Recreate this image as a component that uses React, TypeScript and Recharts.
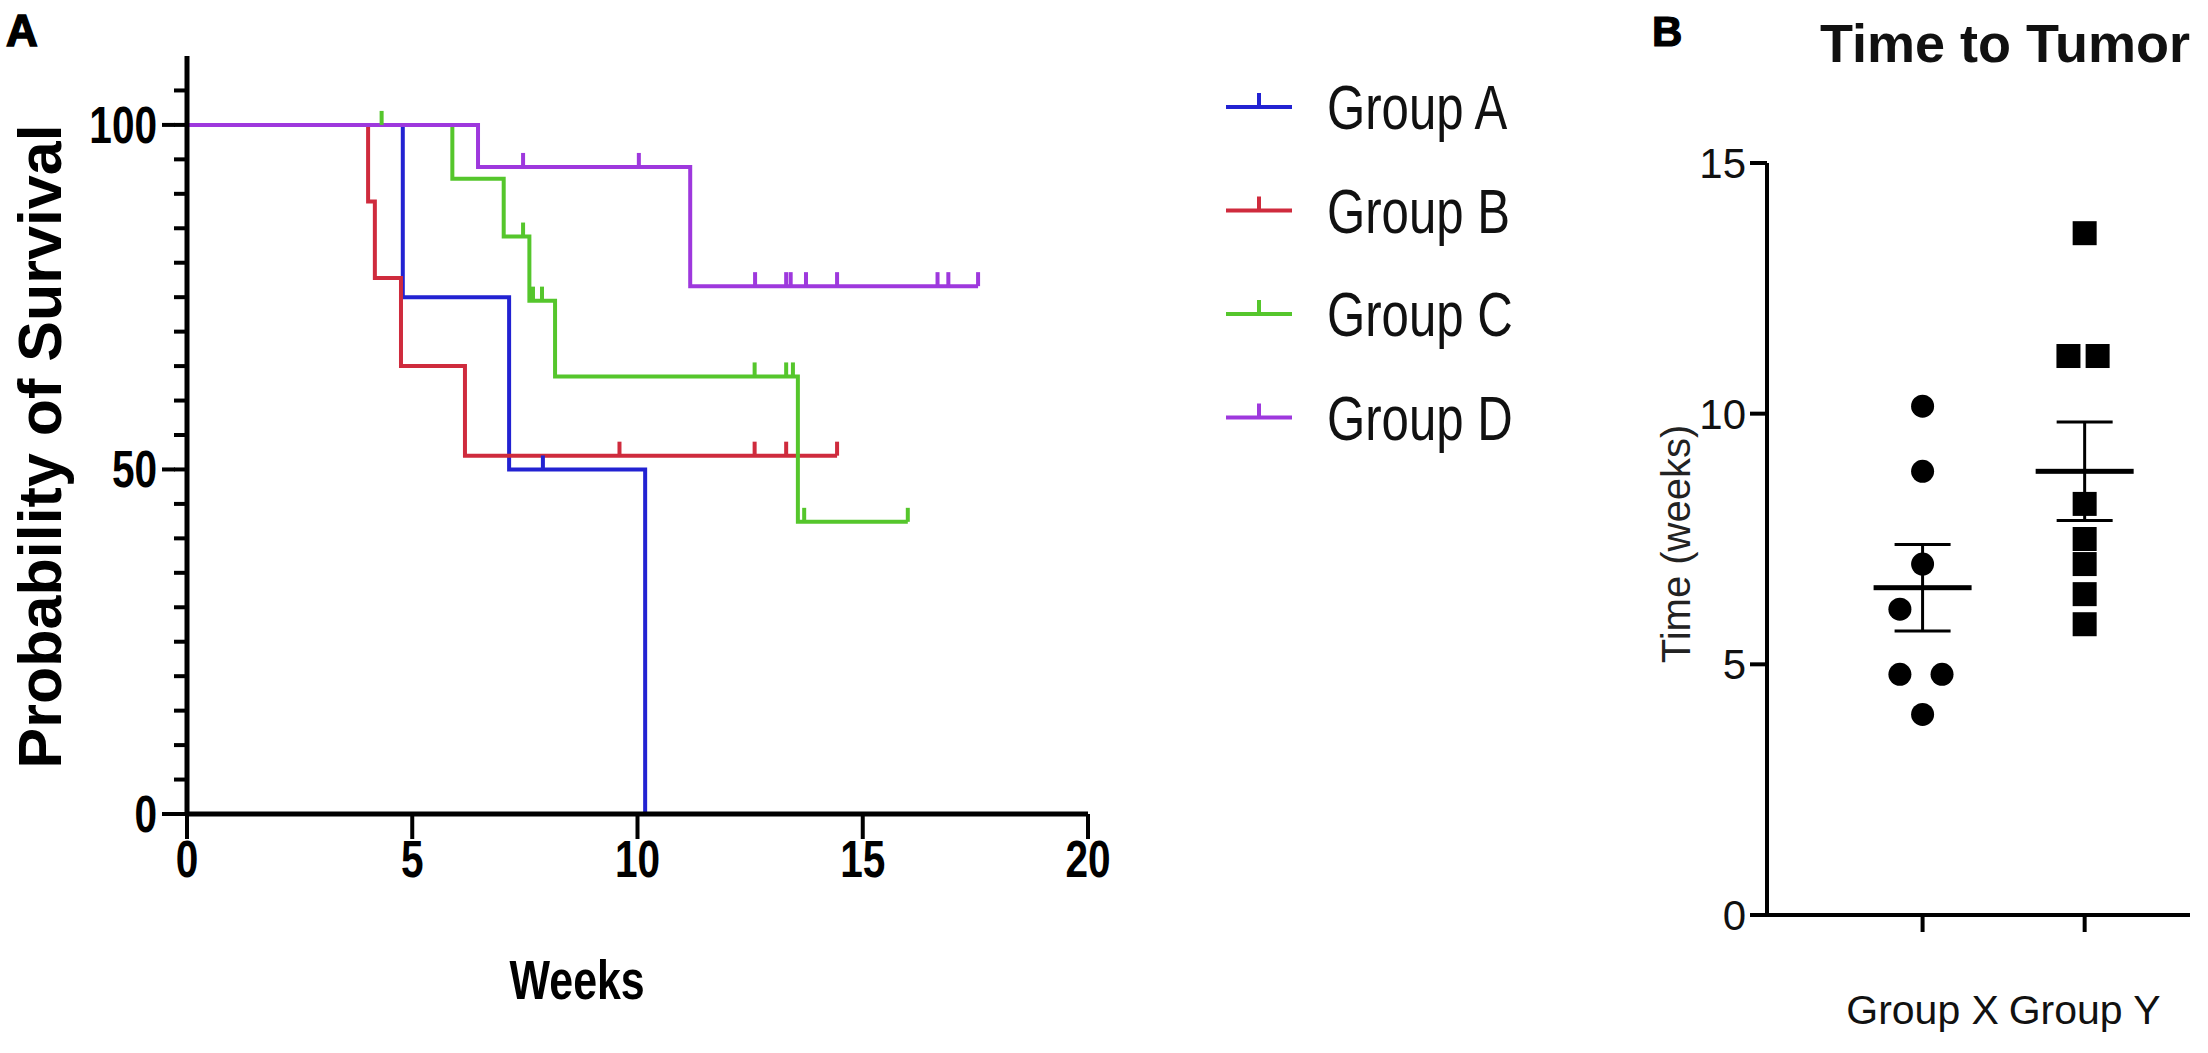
import React from 'react';
import {
  ComposedChart,
  ErrorBar,
  Label,
  Line,
  LineChart,
  Scatter,
  XAxis,
  YAxis,
} from 'recharts';

const FONT = "'Liberation Sans', Arial, Helvetica, sans-serif";
// lettering in panel A is horizontally compressed in the figure
const SQUEEZE = 0.78;

// ---- Panel A: survival curves (weeks, % surviving)
const groupNames = ['Group A', 'Group B', 'Group C', 'Group D'];
const groupColors = ['#2222d2', '#cf2b3d', '#55c62c', '#9e38dd'];

// [week, survival after the drop]
const groupAEvents = [[0, 100], [4.79, 75], [7.15, 50], [10.17, 0]];
const groupACensored = [7.9];
const groupBEvents = [[0, 100], [4.02, 88.9], [4.17, 77.8], [4.75, 65], [6.17, 52]];
const groupBCensored = [9.6, 12.6, 13.3, 14.43];
const groupCEvents = [[0, 100], [5.89, 92.2], [7.03, 83.8], [7.6, 74.5], [8.17, 63.5], [13.56, 42.4]];
const groupCCensored = [4.32, 7.46, 7.68, 7.88, 12.6, 13.3, 13.45, 13.7, 16.0];
const groupDEvents = [[0, 100], [6.46, 93.9], [11.17, 76.6]];
const groupDCensored = [7.46, 10.03, 12.61, 13.3, 13.4, 13.74, 14.43, 16.66, 16.9, 17.56];

const weekTicks = [0, 5, 10, 15, 20];
const survivalTicks = [0, 5, 10, 15, 20, 25, 30, 35, 40, 45, 50, 55, 60, 65, 70, 75, 80, 85, 90, 95, 100, 105];

// ---- Panel B: time to tumor
const tumorGroups = ['Group X', 'Group Y'];
const groupXWeeks = [10.15, 8.85, 7.0, 6.1, 4.8, 4.8, 4.0];
const groupXSpread = [0, 0, 0, -0.14, -0.14, 0.12, 0];
const groupYWeeks = [13.6, 11.15, 11.15, 8.2, 7.5, 7.0, 6.4, 5.8];
const groupYSpread = [0, -0.1, 0.08, 0, 0, 0, 0, 0];
const timeTicks = [0, 5, 10, 15];

type Pt = { t: number; s: number; c: boolean };

const buildCurve = (events: number[][], censored: number[]): Pt[] => {
  const pts: Pt[] = events.map(([t, s]) => ({ t, s, c: false }));
  censored.forEach((t) => {
    const before = events.filter(([et]) => et <= t);
    pts.push({ t, s: before[before.length - 1][1], c: true });
  });
  return pts.sort((a, b) => a.t - b.t);
};

const curves = [
  buildCurve(groupAEvents, groupACensored),
  buildCurve(groupBEvents, groupBCensored),
  buildCurve(groupCEvents, groupCCensored),
  buildCurve(groupDEvents, groupDCensored),
];

const mean = (v: number[]) => v.reduce((a, b) => a + b, 0) / v.length;
const sem = (v: number[]) => {
  const m = mean(v);
  const sd = Math.sqrt(v.reduce((a, b) => a + (b - m) ** 2, 0) / (v.length - 1));
  return sd / Math.sqrt(v.length);
};

const groupXPoints = groupXWeeks.map((y, i) => ({ x: 1 + groupXSpread[i], y }));
const groupYPoints = groupYWeeks.map((y, i) => ({ x: 2 + groupYSpread[i], y }));
const summary = [
  { x: 1, y: mean(groupXWeeks), err: sem(groupXWeeks) },
  { x: 2, y: mean(groupYWeeks), err: sem(groupYWeeks) },
];

const censorDot = (color: string) => (props: any) => {
  const { cx, cy, payload, index } = props;
  if (!payload?.c) return <g key={`n${index}`} />;
  return <rect key={`c${index}`} x={cx - 2} y={cy - 14} width={4} height={14} fill={color} />;
};

const TICK = { stroke: '#000', strokeWidth: 4 };

// panel A y ticks: axis draws 13px marks everywhere, majors get extended to 25px and labelled
// (x here is the outer end of the 13px mark)
const SurvivalTick = (props: any) => {
  const { x, y, payload } = props;
  if (payload.value % 50 !== 0) return <g />;
  return (
    <g>
      <line x1={x - 12} x2={x + 1} y1={y} y2={y} stroke='#000' strokeWidth={4} />
      <text
        transform={`translate(${x - 17},${y + 18}) scale(${SQUEEZE},1)`}
        textAnchor='end'
        fontFamily={FONT}
        fontWeight='bold'
        fontSize={52}
        fill='#000'
      >
        {payload.value}
      </text>
    </g>
  );
};

// x is below the 25px tick mark already
const WeekTick = (props: any) => {
  const { x, y, payload } = props;
  return (
    <text
      transform={`translate(${x},${y + 38}) scale(${SQUEEZE},1)`}
      textAnchor='middle'
      fontFamily={FONT}
      fontWeight='bold'
      fontSize={52}
      fill='#000'
    >
      {payload.value}
    </text>
  );
};

const TimeTick = (props: any) => {
  const { x, y, payload } = props;
  return (
    <text x={x - 4} y={y + 15} textAnchor='end' fontFamily={FONT} fontSize={42} fill='#111'>
      {payload.value}
    </text>
  );
};

const GroupTick = (props: any) => {
  const { x, y, payload } = props;
  return (
    <text x={x} y={y + 92} textAnchor='middle' fontFamily={FONT} fontSize={41} fill='#111'>
      {tumorGroups[payload.value - 1]}
    </text>
  );
};

const MeanBar = (props: any) => (
  <rect x={props.cx - 49} y={props.cy - 2.5} width={98} height={5} fill='#000' />
);

export default function App() {
  return (
    <div style={{ position: 'absolute', left: 0, top: 0, width: 2208, height: 1053, background: '#fff' }}>
      <div style={{ position: 'absolute', left: 0, top: 0 }}>
        <LineChart width={1560} height={1053} margin={{ top: 56, right: 472, bottom: 139, left: 0 }}>
          <XAxis
            dataKey='t'
            type='number'
            domain={[0, 20]}
            ticks={weekTicks}
            interval={0}
            height={100}
            tickSize={25}
            tickMargin={0}
            tickLine={TICK}
            axisLine={{ stroke: '#000', strokeWidth: 5 }}
            tick={<WeekTick />}
            allowDataOverflow
          >
            <Label
              content={({ viewBox }: any) => (
                <text
                  transform={`translate(${viewBox.x + viewBox.width * 0.433},${viewBox.y + 185}) scale(${SQUEEZE},1)`}
                  textAnchor='middle'
                  fontFamily={FONT}
                  fontWeight='bold'
                  fontSize={55}
                  fill='#000'
                >
                  Weeks
                </text>
              )}
            />
          </XAxis>
          <YAxis
            type='number'
            domain={[0, 110]}
            ticks={survivalTicks}
            interval={0}
            width={187}
            tickSize={13}
            tickMargin={0}
            tickLine={TICK}
            axisLine={{ stroke: '#000', strokeWidth: 5 }}
            tick={<SurvivalTick />}
            allowDataOverflow
          >
            <Label
              content={({ viewBox }: any) => (
                <text
                  transform={`translate(61,${viewBox.y + viewBox.height * 0.515}) rotate(-90)`}
                  textAnchor='middle'
                  fontFamily={FONT}
                  fontWeight='bold'
                  fontSize={61}
                  fill='#000'
                >
                  Probability of Survival
                </text>
              )}
            />
          </YAxis>
          {curves.map((data, i) => (
            <Line
              key={groupNames[i]}
              name={groupNames[i]}
              data={data}
              dataKey='s'
              type='stepAfter'
              stroke={groupColors[i]}
              strokeWidth={4}
              dot={censorDot(groupColors[i])}
              activeDot={false}
              isAnimationActive={false}
            />
          ))}
        </LineChart>
      </div>

      <div style={{ position: 'absolute', left: 1560, top: 0 }}>
        <ComposedChart width={648} height={1053} margin={{ top: 163, right: 18, bottom: 28, left: 0 }}>
          <XAxis
            dataKey='x'
            type='number'
            domain={[0.04, 2.65]}
            ticks={[1, 2]}
            interval={0}
            height={110}
            tickSize={17}
            tickMargin={0}
            tickLine={TICK}
            axisLine={{ stroke: '#000', strokeWidth: 4 }}
            tick={<GroupTick />}
            allowDataOverflow
          />
          <YAxis
            dataKey='y'
            type='number'
            domain={[0, 15]}
            ticks={timeTicks}
            interval={0}
            width={207}
            tickSize={17}
            tickMargin={0}
            tickLine={TICK}
            axisLine={{ stroke: '#000', strokeWidth: 4 }}
            tick={<TimeTick />}
            allowDataOverflow
          >
            <Label
              content={({ viewBox }: any) => (
                <text
                  transform={`translate(${viewBox.x + 130},${viewBox.y + 381}) rotate(-90)`}
                  textAnchor='middle'
                  fontFamily={FONT}
                  fontSize={40}
                  fill='#222'
                >
                  Time (weeks)
                </text>
              )}
            />
          </YAxis>
          <Scatter
            name={tumorGroups[0]}
            data={groupXPoints}
            isAnimationActive={false}
            shape={(p: any) => <circle cx={p.cx} cy={p.cy} r={11.5} fill='#000' />}
          />
          <Scatter
            name={tumorGroups[1]}
            data={groupYPoints}
            isAnimationActive={false}
            shape={(p: any) => <rect x={p.cx - 12} y={p.cy - 12} width={24} height={24} fill='#000' />}
          />
          <Scatter name='mean' data={summary} isAnimationActive={false} shape={<MeanBar />}>
            <ErrorBar dataKey='err' direction='y' width={28} stroke='#000' strokeWidth={3} />
          </Scatter>
        </ComposedChart>
      </div>

      {/* panel letters, title and legend */}
      <svg width={2208} height={1053} style={{ position: 'absolute', left: 0, top: 0, pointerEvents: 'none' }}>
        <text x={6} y={46} fontFamily={FONT} fontWeight='bold' fontSize={44} stroke='#000' strokeWidth={1.5}>A</text>
        <text x={1652} y={46} fontFamily={FONT} fontWeight='bold' fontSize={42} stroke='#000' strokeWidth={1.2}>B</text>
        <text x={2005} y={62} textAnchor='middle' fontFamily={FONT} fontWeight='bold' fontSize={54} fill='#111'>
          Time to Tumor
        </text>
        {groupNames.map((name, i) => {
          const y = 107 + i * 103.5;
          return (
            <g key={name}>
              <rect x={1226} y={y - 2} width={66} height={4} fill={groupColors[i]} />
              <rect x={1257} y={y - 14} width={4} height={14} fill={groupColors[i]} />
              <text
                transform={`translate(1327,${y + 22}) scale(${SQUEEZE},1)`}
                fontFamily={FONT}
                fontSize={63}
                fill='#111'
              >
                {name}
              </text>
            </g>
          );
        })}
      </svg>
    </div>
  );
}
